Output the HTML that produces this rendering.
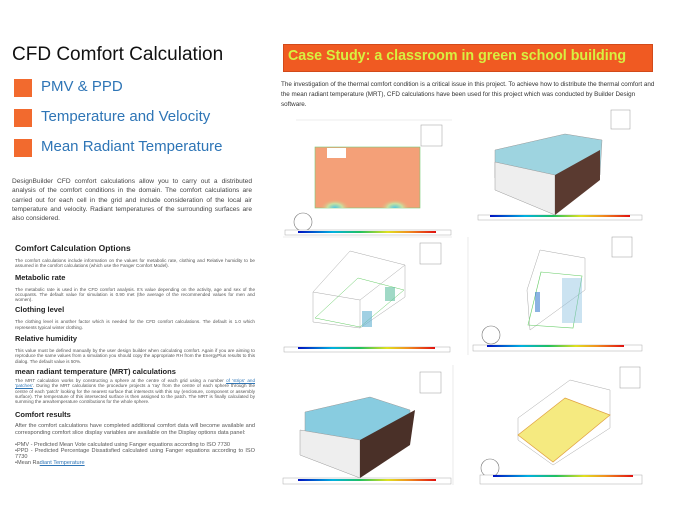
<!DOCTYPE html>
<html><head><meta charset="utf-8"><style>
body{margin:0;width:680px;height:525px;background:#fff;position:relative;overflow:hidden;font-family:"Liberation Sans",sans-serif}
.a{position:absolute}
.t{color:#555;font-size:4.6px;line-height:5.3px;text-align:justify}
.h{font-weight:bold;color:#222;font-size:7.5px}
.sq{position:absolute;left:14px;width:18px;height:18px;background:#f26a2e}
.li{position:absolute;left:41px;color:#2e75b6;font-size:15px}
</style></head><body>
<div class="a" style="left:12px;top:44px;font-size:19px;color:#111">CFD Comfort Calculation</div>
<div class="sq" style="top:79px"></div><div class="li" style="top:78px">PMV &amp; PPD</div>
<div class="sq" style="top:109px"></div><div class="li" style="top:108px">Temperature and Velocity</div>
<div class="sq" style="top:139px"></div><div class="li" style="top:138px">Mean Radiant Temperature</div>
<div class="a t" style="left:12px;top:177px;width:240px;font-size:6.6px;line-height:9.3px;color:#444">DesignBuilder CFD comfort calculations allow you to carry out a distributed analysis of the comfort conditions in the domain. The comfort calculations are carried out for each cell in the grid and include consideration of the local air temperature and velocity. Radiant temperatures of the surrounding surfaces are also considered.</div>
<div class="a" style="left:15px;top:243px;width:240px">
<div class="h" style="font-size:8.5px">Comfort Calculation Options</div>
<div class="t" style="margin-top:5px">The comfort calculations include information on the values for metabolic rate, clothing and Relative humidity to be assumed in the comfort calculations (which use the Fanger Comfort Model).</div>
<div class="h" style="margin-top:4px">Metabolic rate</div>
<div class="t" style="margin-top:5px">The metabolic rate is used in the CFD comfort analysis. It's value depending on the activity, age and sex of the occupants. The default value for simulation is 0.90 met (the average of the recommended values for men and women).</div>
<div class="h" style="margin-top:3px">Clothing level</div>
<div class="t" style="margin-top:5px">The clothing level is another factor which is needed for the CFD comfort calculations. The default is 1.0 which represents typical winter clothing.</div>
<div class="h" style="margin-top:4px">Relative humidity</div>
<div class="t" style="margin-top:5px">This value must be defined manually by the user design builder when calculating comfort. Again if you are aiming to reproduce the same values from a simulation you should copy the appropriate RH from the EnergyPlus results to this dialog. The default value is 50%.</div>
<div class="h" style="margin-top:3px">mean radiant temperature (MRT) calculations</div>
<div class="t" style="margin-top:2px">The MRT calculation works by constructing a sphere at the centre of each grid using a number <span style="color:#2e75b6;text-decoration:underline">of 'strips' and 'patches'</span>. During the MRT calculations the procedure projects a 'ray' from the centre of each sphere through the centre of each 'patch' looking for the nearest surface that intersects with this ray (enclosure, component or assembly surface). The temperature of this intersected surface is then assigned to the patch. The MRT is finally calculated by summing the area/temperature contributions for the whole sphere.</div>
<div class="h" style="margin-top:6px">Comfort results</div>
<div class="t" style="margin-top:4px;font-size:5.6px;line-height:6.2px">After the comfort calculations have completed additional comfort data will become available and corresponding comfort slice display variables are available on the Display options data panel:</div>
<div class="t" style="margin-top:6px;font-size:5.6px;line-height:6px">•PMV - Predicted Mean Vote calculated using Fanger equations according to ISO 7730<br>•PPD - Predicted Percentage Dissatisfied calculated using Fanger equations according to ISO 7730<br>•Mean Ra<span style="color:#2e75b6;text-decoration:underline">diant Temperature</span></div>
</div>
<div class="a" style="left:283px;top:44px;width:368px;height:26px;background:#f05a22;border:1px solid #d24a1a"></div>
<div class="a" style="left:288px;top:47px;font-size:15px;font-weight:bold;color:#d8f040;white-space:nowrap;transform:scaleX(.95);transform-origin:0 0">Case Study: a classroom in green school building</div>
<div class="a" style="left:281px;top:80px;width:376px;font-size:6.3px;line-height:10px;color:#333">The investigation of the thermal comfort condition is a critical issue in this project. To achieve how to distribute the thermal comfort and the mean radiant temperature (MRT), CFD calculations have been used for this project which was conducted by Builder Design software.</div>
<svg class="a" style="left:0;top:0" width="680" height="525">
<defs><linearGradient id="cb"><stop offset="0" stop-color="#0010c0"/><stop offset=".25" stop-color="#00b0e0"/><stop offset=".45" stop-color="#20c060"/><stop offset=".65" stop-color="#e0e020"/><stop offset=".8" stop-color="#f09020"/><stop offset="1" stop-color="#e01010"/></linearGradient>
<radialGradient id="bl" cx=".5" cy="1" r=".5"><stop offset="0" stop-color="#50c8e0"/><stop offset=".5" stop-color="#c8e0a0"/><stop offset="1" stop-color="#f4a070" stop-opacity="0"/></radialGradient></defs>
<g stroke="#ddd" stroke-width=".6" fill="none">
<line x1="296" y1="120" x2="452" y2="120"/><line x1="283" y1="237" x2="452" y2="237"/><line x1="468" y1="237" x2="468" y2="355"/><line x1="453" y1="365" x2="453" y2="485"/></g>
<rect x="315" y="147" width="105" height="61" fill="#f4a078" stroke="#7c7" stroke-width=".6"/>
<rect x="320" y="190" width="30" height="18" fill="url(#bl)"/><rect x="380" y="190" width="30" height="18" fill="url(#bl)"/>
<rect x="327" y="148" width="19" height="10" fill="#fff"/>
<rect x="421" y="125" width="21" height="21" fill="#fff" stroke="#999" stroke-width=".5"/>
<circle cx="303" cy="222" r="9" fill="none" stroke="#777" stroke-width=".6"/>
<rect x="285" y="230" width="166" height="5" fill="#fff" stroke="#aaa" stroke-width=".5"/><rect x="298" y="231" width="138" height="2" fill="url(#cb)"/>
<rect x="611" y="110" width="19" height="19" fill="#fff" stroke="#999" stroke-width=".5"/>
<polygon points="495,150 565,134 602,140 600,175 555,200 495,178" fill="#9ed4e0" stroke="#999" stroke-width=".5"/>
<polygon points="495,162 555,175 555,215 495,190" fill="#eee" stroke="#999" stroke-width=".5"/>
<polygon points="555,175 600,150 600,180 555,215" fill="#5a3a30"/>
<rect x="478" y="215" width="164" height="5" fill="#fff" stroke="#aaa" stroke-width=".5"/><rect x="490" y="215" width="140" height="2" fill="url(#cb)"/>
<rect x="420" y="243" width="21" height="21" fill="#fff" stroke="#999" stroke-width=".5"/>
<g fill="none" stroke="#aaa" stroke-width=".5"><polygon points="313,292 350,251 405,265 405,297 360,328 313,322"/><line x1="313" y1="292" x2="360" y2="300"/><line x1="360" y1="300" x2="405" y2="265"/><line x1="360" y1="300" x2="360" y2="328"/></g>
<polygon points="315,318 360,327 404,290 358,278" fill="none" stroke="#6c6" stroke-width=".5"/>
<rect x="362" y="311" width="10" height="16" fill="#60b0d0" opacity=".6"/><rect x="385" y="287" width="10" height="14" fill="#60c0a0" opacity=".6"/>
<rect x="284" y="347" width="166" height="5" fill="#fff" stroke="#aaa" stroke-width=".5"/><rect x="298" y="347" width="137" height="2" fill="url(#cb)"/>
<rect x="612" y="237" width="20" height="20" fill="#fff" stroke="#999" stroke-width=".5"/>
<g fill="none" stroke="#aaa" stroke-width=".5"><polygon points="540,250 585,258 585,290 530,330 527,290"/></g>
<polygon points="541,272 582,276 573,328 528,325" fill="none" stroke="#6c6" stroke-width=".6"/>
<rect x="562" y="278" width="20" height="45" fill="#8cc0e0" opacity=".45"/><rect x="535" y="292" width="5" height="20" fill="#4080d0" opacity=".6"/>
<circle cx="491" cy="335" r="9" fill="none" stroke="#777" stroke-width=".6"/>
<rect x="473" y="345" width="169" height="6" fill="#fff" stroke="#aaa" stroke-width=".5"/><rect x="487" y="345" width="137" height="2" fill="url(#cb)"/>
<rect x="420" y="372" width="21" height="21" fill="#fff" stroke="#999" stroke-width=".5"/>
<polygon points="305,412 370,397 410,410 410,440 370,470 305,445" fill="#88cce0" stroke="#999" stroke-width=".5"/>
<polygon points="300,430 360,440 360,478 300,455" fill="#eee" stroke="#999" stroke-width=".5"/>
<polygon points="360,440 415,410 410,445 360,478" fill="#4a3028"/>
<rect x="283" y="478" width="168" height="6" fill="#fff" stroke="#aaa" stroke-width=".5"/><rect x="298" y="479" width="138" height="2" fill="url(#cb)"/>
<rect x="620" y="367" width="20" height="21" fill="#fff" stroke="#999" stroke-width=".5"/>
<g fill="none" stroke="#aaa" stroke-width=".5"><polygon points="518,418 570,380 610,390 610,428 553,465 518,440"/></g>
<polygon points="565,398 610,415 553,462 518,435" fill="#f5ea80" stroke="#e0a040" stroke-width=".7"/>
<circle cx="490" cy="468" r="9" fill="none" stroke="#777" stroke-width=".6"/>
<rect x="480" y="475" width="162" height="9" fill="#fff" stroke="#aaa" stroke-width=".5"/><rect x="493" y="475" width="140" height="2" fill="url(#cb)"/>
</svg>
</body></html>
